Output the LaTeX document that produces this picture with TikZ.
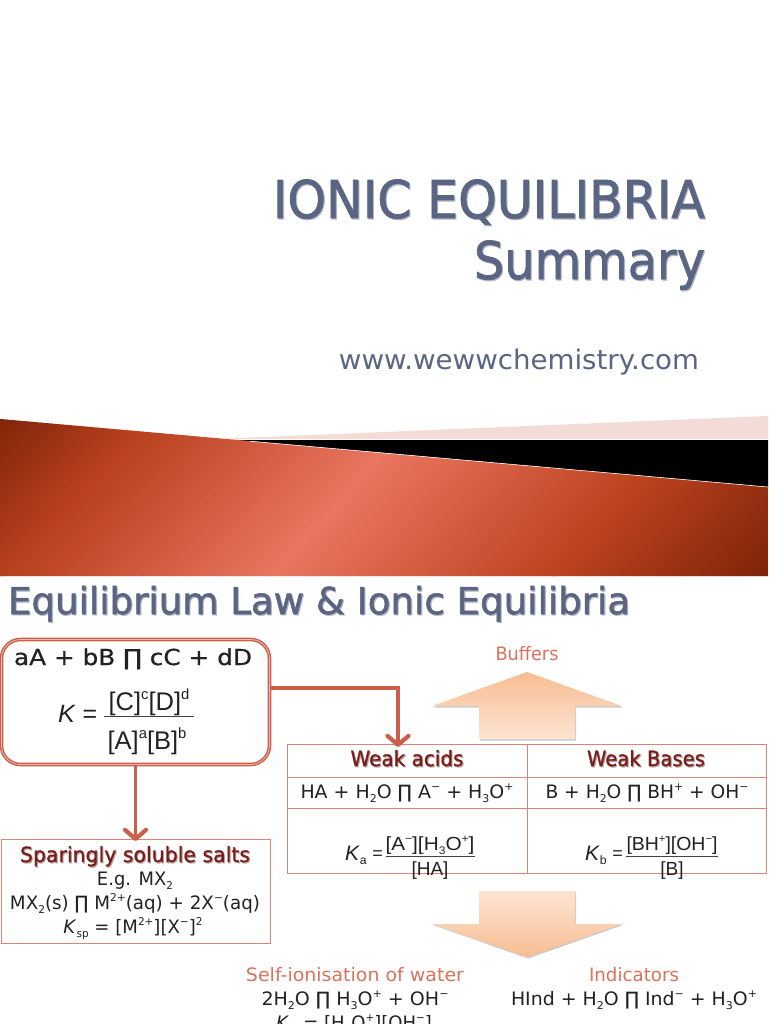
\documentclass[tikz,border=0pt]{standalone}
\usepackage{fontspec}
\usepackage{graphicx}
\usetikzlibrary{arrows.meta}
\setmainfont{DejaVu Sans}
\newfontfamily\arl{Liberation Sans}
\newfontfamily\hvy[FakeBold=1.5]{DejaVu Sans}
\newfontfamily\mdm[FakeBold=0.7]{DejaVu Sans}
\definecolor{slatec}{HTML}{5A6583}
\definecolor{slatesh}{HTML}{B4B7C2}
\definecolor{salmon}{HTML}{D9735C}
\definecolor{linec}{HTML}{CC5F4A}
\definecolor{tablec}{HTML}{DB8672}
\definecolor{wine}{HTML}{7A1C1A}
\definecolor{winesh}{HTML}{B5A09E}
\definecolor{textc}{HTML}{222222}
\definecolor{ca}{HTML}{751F06}
\definecolor{cb}{HTML}{B8401E}
\definecolor{cc}{HTML}{EA7561}
\definecolor{cd}{HTML}{BC421F}
\definecolor{pinkc}{HTML}{F4DCD6}
\definecolor{peachd}{HTML}{F7BD92}
\definecolor{peachl}{HTML}{FDE4D2}
\newcommand\fs[1]{\fontsize{#1}{#1}\selectfont}
\newcommand\fit[2]{\resizebox{#1pt}{\height}{#2}}
\newcommand\smf{\fontsize{\the\dimexpr.58em\relax}{0pt}\selectfont}
\newcommand\up[1]{\raisebox{.42em}{\smf #1}}
\newcommand\dn[1]{\raisebox{-.22em}{\smf #1}}
\newcommand\shd[3]{\makebox[0pt][l]{\raisebox{-1.2pt}{\hspace{1.1pt}\textcolor{#1}{#3}}}\textcolor{#2}{#3}}
\tikzset{
  txt/.style={inner sep=0pt,outer sep=0pt,anchor=base,text=textc},
  lbl/.style={inner sep=0pt,outer sep=0pt,anchor=base,text=salmon},
  frule/.style={draw=textc!85,line width=.8pt},
  cell/.style={draw=tablec,line width=1pt,inner sep=0pt,outer sep=0pt,anchor=north west},
  conn/.style={draw=linec,line width=3.8pt,-{Straight Barb[round,length=9pt,width=21pt,line width=4.2pt]}},
  blockshadow/.style={fill=black!45,opacity=.45}
}
\begin{document}
\begin{tikzpicture}[x=1pt,y=-1pt]
\useasboundingbox (0,0) rectangle (768,1024);
\fill[white] (0,0) rectangle (768,1024);
% ---- top slide band
\fill[pinkc] (216,439) -- (768,416) -- (768,439) -- cycle;
\fill[black] (216,440) -- (768,440) -- (768,488) -- cycle;
\begin{scope}
\clip (0,419) -- (768,487) -- (768,576) -- (0,576) -- cycle;
\begin{scope}[shift={(320,520)},rotate=-42]
\foreach \ta/\tb/\cs/\ce in {-330/-200/ca/cb,-200/0/cb/cc,0/210/cc/cd,210/390/cd/ca}{
  \foreach \t in {\ta,\the\numexpr\ta+3\relax,...,\tb}{
    \pgfmathtruncatemacro\p{(\t-\ta)/(\tb-\ta)*100}
    \fill[\ce!\p!\cs] (\t,-600) rectangle (\t+4,600);
  }
}
\end{scope}
\end{scope}
\draw[white,line width=.6pt] (250,441.2) -- (768,487);
% ---- title texts
\node[txt,anchor=base east,text=slatec] (title1) at (705,218) {\fs{52}\fit{432}{\hvy\shd{slatesh}{slatec}{IONIC EQUILIBRIA}}};
\node[txt,anchor=base east,text=slatec] (title2) at (705,279) {\fs{52}\fit{231}{\hvy\shd{slatesh}{slatec}{Summary}}};
\node[txt,anchor=base east,text=slatec] (web) at (699,369) {\fs{27}\fit{360}{www.wewwchemistry.com}};
\node[txt,anchor=base west,text=slatec] (head) at (8,614) {\fs{37}\fit{622}{\hvy\shd{slatesh}{slatec}{Equilibrium Law \& Ionic Equilibria}}};
% ---- law box
\node[draw=linec,line width=3.6pt,rounded corners=19pt,minimum width=268pt,minimum height=125pt,inner sep=0pt,outer sep=0pt] (lawbox) at (135.5,702) {};
\draw[draw=linec!45!white,line width=.8pt,rounded corners=19pt] (lawbox.north west) rectangle (lawbox.south east);
\node[txt] (lawtxt) at (133,665) {\fs{22}\fit{238}{\mdm aA + bB ∏ cC + dD}};
\node[txt,anchor=base west] (kk) at (58,722) {\arl\fs{25}\textit{K} =};
\node[txt] (knum) at (149,710) {\arl\fs{25.5}[C]\up{c}[D]\up{d}};
\node[txt] (kden) at (147,749) {\arl\fs{25.5}[A]\up{a}[B]\up{b}};
\draw[frule] (104,716) -- (194,716);
% ---- table
\node[cell,minimum width=240pt,minimum height=33pt] (acidcell) at (287,744) {};
\node[cell,minimum width=239pt,minimum height=33pt] (basecell) at (527,744) {};
\node[cell,minimum width=240pt,minimum height=31pt] (acideq) at (287,777) {};
\node[cell,minimum width=239pt,minimum height=31pt] (baseeq) at (527,777) {};
\node[cell,minimum width=240pt,minimum height=65pt] (acidk) at (287,808) {};
\node[cell,minimum width=239pt,minimum height=65pt] (basek) at (527,808) {};
\node[txt] (acidh) at (407,766) {\fs{21}\fit{113}{\mdm\shd{winesh}{wine}{Weak acids}}};
\node[txt] (baseh) at (646,766) {\fs{21}\fit{118}{\mdm\shd{winesh}{wine}{Weak Bases}}};
\node[txt] (acidr) at (407,798) {\fs{18.5}\fit{213}{HA + H\dn{2}O ∏ A\up{−} + H\dn{3}O\up{+}}};
\node[txt] (baser) at (647,798) {\fs{18.5}\fit{203}{B + H\dn{2}O ∏ BH\up{+} + OH\up{−}}};
\node[txt,anchor=base west] (ka) at (345,860) {\arl\fs{21}\textit{K}\dn{a} \raisebox{.5pt}{\fs{18}=}};
\node[txt] (kanum) at (430,850) {\arl\fs{19}\fit{89}{[A\up{−}][H\dn{3}O\up{+}]}};
\node[txt] (kaden) at (430,875) {\arl\fs{19}[HA]};
\draw[frule] (386,856) -- (475,856);
\node[txt,anchor=base west] (kb) at (585,860) {\arl\fs{21}\textit{K}\dn{b} \raisebox{.5pt}{\fs{18}=}};
\node[txt] (kbnum) at (672,850) {\arl\fs{19}\fit{91}{[BH\up{+}][OH\up{−}]}};
\node[txt] (kbden) at (672,875) {\arl\fs{19}[B]};
\draw[frule] (626,856) -- (718,856);
% ---- salts box
\node[draw=tablec,line width=1pt,minimum width=269pt,minimum height=104pt,inner sep=0pt,outer sep=0pt] (saltbox) at (135.5,891) {};
\node[txt] (salth) at (135,862) {\fs{21}\fit{230}{\mdm\shd{winesh}{wine}{Sparingly soluble salts}}};
\node[txt] (salt1) at (135,885) {\fs{18.5}\fit{76}{E.g. MX\dn{2}}};
\node[txt] (salt2) at (135,909) {\fs{18.5}\fit{250}{MX\dn{2}(s) ∏ M\up{2+}(aq) + 2X\up{−}(aq)}};
\node[txt] (salt3) at (133,933) {\fs{18.5}\fit{139}{\textit{K}\dn{sp} = [M\up{2+}][X\up{−}]\up{2}}};
% ---- connectors
\draw[conn] ([yshift=14pt]lawbox.east) -| ([xshift=-9pt,yshift=-3pt]acidcell.north);
\draw[conn] (lawbox.south) -- ([yshift=-2pt]saltbox.north);
% ---- block arrows
\fill[blockshadow] (528,673.5) -- (623,707.5) -- (576,707.5) -- (576,740.5) -- (480,740.5) -- (480,707.5) -- (433,707.5) -- cycle;
\shade[top color=peachd,bottom color=peachl] (527,672) -- (622,706) -- (575,706) -- (575,739) -- (479,739) -- (479,706) -- (432,706) -- cycle;
\node[lbl] (buffers) at (527,660) {\fs{18.5}\fit{63}{Buffers}};
\fill[blockshadow] (480,892) -- (576,892) -- (576,925) -- (623,925) -- (528,958.5) -- (433,925) -- (480,925) -- cycle;
\shade[top color=peachl,bottom color=peachd] (479,891) -- (575,891) -- (575,924) -- (622,924) -- (527,957) -- (432,924) -- (479,924) -- cycle;
% ---- bottom texts
\node[lbl] (selfh) at (355,981) {\fs{18.5}\fit{218}{Self-ionisation of water}};
\node[lbl] (indh) at (634,981) {\fs{18.5}\fit{90}{Indicators}};
\node[txt] (selfr) at (355,1005) {\fs{18.5}\fit{187}{2H\dn{2}O ∏ H\dn{3}O\up{+} + OH\up{−}}};
\node[txt] (indr) at (634,1005) {\fs{18.5}\fit{246}{HInd + H\dn{2}O ∏ Ind\up{−} + H\dn{3}O\up{+}}};
\node[txt] (kw) at (354,1029) {\fs{18.5}\fit{156}{\textit{K}\dn{w} = [H\dn{3}O\up{+}][OH\up{−}]}};
\end{tikzpicture}
\end{document}
